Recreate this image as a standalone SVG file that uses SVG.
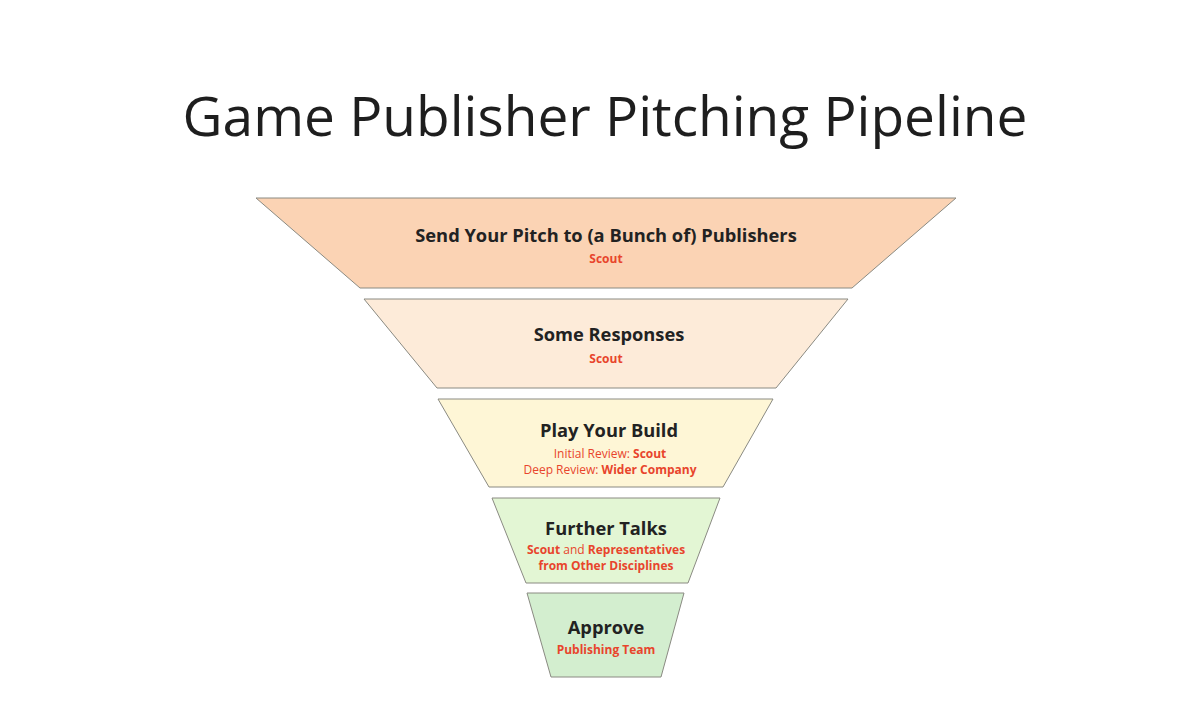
<svg xmlns="http://www.w3.org/2000/svg" width="1200" height="728" viewBox="0 0 1200 728">
<style>
.title{font-family:"Open Sans","Noto Sans",sans-serif;font-size:55px;fill:#1e1e1e;text-anchor:middle}
.stage{stroke:#8a8a82;stroke-width:1}
.h{font-family:"Open Sans","Noto Sans",sans-serif;font-size:18.3px;font-weight:bold;fill:#222;text-anchor:middle}
.s{font-family:"Open Sans","Noto Sans",sans-serif;font-size:12px;fill:#e8452c;text-anchor:middle}
.b{font-weight:bold}
</style>
<rect width="1200" height="728" fill="#ffffff"/>
<text class="title" x="605" y="136">Game Publisher Pitching Pipeline</text>
<g id="connectors"/>
<g id="stage1">
<polygon class="stage" fill="#fbd3b4" points="256,198 956,198 852,288 360,288"/>
<text class="h" x="606" y="242">Send Your Pitch to (a Bunch of) Publishers</text>
<text class="s b" x="606" y="263">Scout</text>
</g>
<g id="stage2">
<polygon class="stage" fill="#fdebd9" points="364,299 848,299 776,388 437,388"/>
<text class="h" x="609" y="341">Some Responses</text>
<text class="s b" x="606" y="363">Scout</text>
</g>
<g id="stage3">
<polygon class="stage" fill="#fef6d6" points="438,399 773,399 723,487 489,487"/>
<text class="h" x="609" y="437">Play Your Build</text>
<text class="s" x="610" y="458">Initial Review: <tspan class="b">Scout</tspan></text>
<text class="s" x="610" y="474">Deep Review: <tspan class="b">Wider Company</tspan></text>
</g>
<g id="stage4">
<polygon class="stage" fill="#e3f6d4" points="492,498 720,498 688,583 526,583"/>
<text class="h" x="606" y="535">Further Talks</text>
<text class="s" x="606" y="554"><tspan class="b">Scout</tspan> and <tspan class="b">Representatives</tspan></text>
<text class="s b" x="606" y="570">from Other Disciplines</text>
</g>
<g id="stage5">
<polygon class="stage" fill="#d3eecf" points="527,593 684,593 661,677 551,677"/>
<text class="h" x="606" y="634">Approve</text>
<text class="s b" x="606" y="654">Publishing Team</text>
</g>
</svg>
